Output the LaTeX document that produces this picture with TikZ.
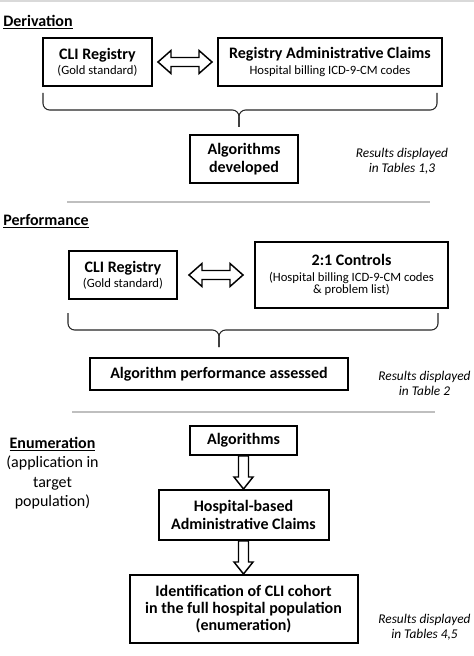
\documentclass[tikz,border=0pt]{standalone}
\usepackage{fontspec}
\setmainfont{Carlito}
\usetikzlibrary{calc}
\newcommand{\subtxt}{\fontsize{9.5}{11}\selectfont\mdseries}

\begin{document}
\begin{tikzpicture}[x=0.75pt,y=-0.75pt,
  box/.style={draw,line width=1.5pt,align=center,inner sep=0pt,font=\fontsize{12}{14}\selectfont\bfseries},
  head/.style={anchor=base west,inner sep=0pt,font=\fontsize{12}{14}\selectfont\bfseries},
  note/.style={align=center,inner sep=0pt,font=\fontsize{10}{11.5}\selectfont\itshape},
  fatarrow/.style={draw,line width=1.1pt,fill=white,line join=miter},
  brace/.style={draw=black!85,line width=0.8pt,rounded corners=5pt},
  rule/.style={draw=black!25,line width=1.2pt}]

\useasboundingbox (0,0) rectangle (474,656);
\draw[rule,draw=black!15,line width=2pt] (0,1) -- (474,1);

\node[head] (derh) at (3,26.3) {\underline{Derivation}};
\node[box,minimum width=81.75pt,minimum height=36pt] (cliA) at (97.5,62) {CLI Registry\\[-2.5pt]{\subtxt (Gold standard)}};
\node[box,minimum width=168pt,minimum height=36pt] (regA) at (330,62) {Registry Administrative Claims\\[-2.5pt]{\subtxt Hospital billing ICD-9-CM codes}};
\node[box,minimum width=81pt,minimum height=36pt] (algA) at (244,159) {Algorithms\\developed};
\node[note] (resA) at (402,161.5) {Results displayed\\in Tables 1,3};

\coordinate (mA) at ($(cliA.east)!0.5!(regA.west)$);
\draw[fatarrow] ($(mA)+(-27,0)$) -- ++(13,-11.5) -- ++(0,7) -- ($(mA)+(14,-4.5)$) -- ++(0,-7) -- ($(mA)+(27,0)$) -- ++(-13,11.5) -- ++(0,-7) -- ($(mA)+(-14,4.5)$) -- ++(0,7) -- cycle;

\coordinate (bAl) at (43,93);
\coordinate (bAr) at (437,93);
\coordinate (bAt) at (239,127);
\draw[brace] (bAl) |- ($(bAt)+(0,-17)$) -- (bAt);
\draw[brace] (bAr) |- ($(bAt)+(0,-17)$) -- (bAt);

\draw[rule] (67,202) -- (430,202);

\node[head] (perh) at (3,225) {\underline{Performance}};
\node[box,minimum width=81pt,minimum height=36pt] (cliB) at (123,275) {CLI Registry\\[-2.5pt]{\subtxt (Gold standard)}};
\node[box,minimum width=144.75pt,minimum height=49.5pt] (ctrlB) at (351.5,275) {2:1 Controls\\[-2pt]{\subtxt (Hospital billing ICD-9-CM codes}\\[-5pt]{\subtxt \& problem list)}};
\node[box,minimum width=193.5pt,minimum height=24pt] (perfB) at (219,374) {Algorithm performance assessed};
\node[note] (resB) at (424.5,383.5) {Results displayed\\in Table 2};

\coordinate (mB) at ($(cliB.east)!0.5!(ctrlB.west)$);
\draw[fatarrow] ($(mB)+(-27,0)$) -- ++(13,-11.5) -- ++(0,7) -- ($(mB)+(14,-4.5)$) -- ++(0,-7) -- ($(mB)+(27,0)$) -- ++(-13,11.5) -- ++(0,-7) -- ($(mB)+(-14,4.5)$) -- ++(0,7) -- cycle;

\coordinate (bBl) at (68,313);
\coordinate (bBr) at (438,313);
\coordinate (bBt) at (219,347);
\draw[brace] (bBl) |- ($(bBt)+(0,-17)$) -- (bBt);
\draw[brace] (bBr) |- ($(bBt)+(0,-17)$) -- (bBt);

\draw[rule] (72,412) -- (435,412);

\node[align=center,inner sep=0pt,font=\fontsize{12}{14.6}\selectfont] (enuh) at (52.5,473) {\textbf{\underline{Enumeration}}\\(application in\\target\\population)};
\node[box,minimum width=80.25pt,minimum height=21.75pt] (algC) at (243.5,440.5) {Algorithms};
\node[box,minimum width=127.5pt,minimum height=37.5pt] (hospC) at (243.5,515) {Hospital-based\\Administrative Claims};
\node[box,minimum width=171pt,minimum height=51pt,font=\fontsize{12}{12.5}\selectfont\bfseries] (idC) at (243.5,609) {Identification of CLI cohort\\in the full hospital population\\(enumeration)};
\node[note] (resC) at (424.5,627) {Results displayed\\in Tables 4,5};

\draw[fatarrow] ($(algC.south)+(-5,0)$) -- ($(hospC.north)+(-5,-12)$) -- ++(-4.5,0) -- (hospC.north) -- ++(9.5,-12) -- ++(-4.5,0) -- ($(algC.south)+(5,0)$) -- cycle;
\draw[fatarrow] ($(hospC.south)+(-5,0)$) -- ($(idC.north)+(-5,-12)$) -- ++(-4.5,0) -- (idC.north) -- ++(9.5,-12) -- ++(-4.5,0) -- ($(hospC.south)+(5,0)$) -- cycle;

\end{tikzpicture}
\end{document}
